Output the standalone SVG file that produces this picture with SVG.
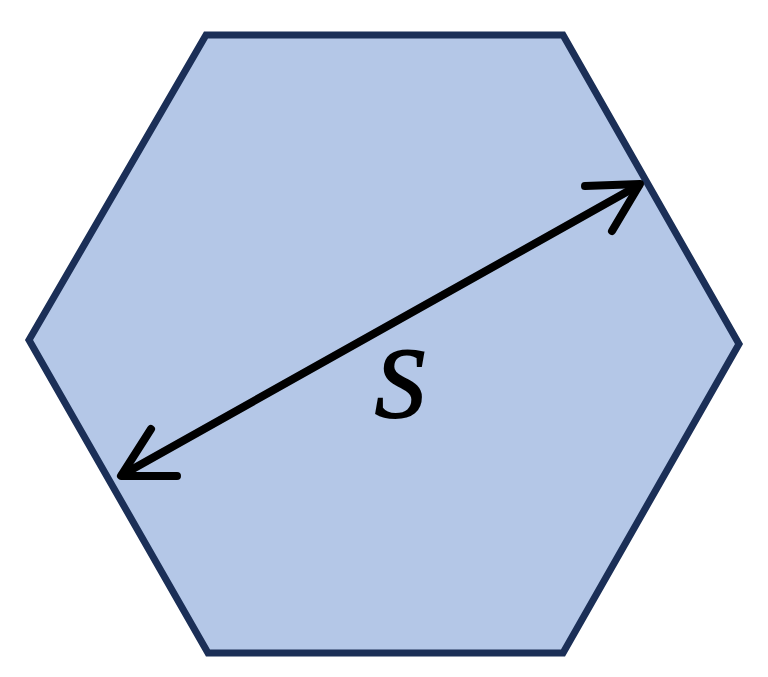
<svg xmlns="http://www.w3.org/2000/svg" width="768" height="677" viewBox="0 0 768 677">
<style>
.hex{fill:#b4c7e7;stroke:#1b2f57;stroke-width:7;stroke-linejoin:miter}
.arr{fill:none;stroke:#000;stroke-width:8;stroke-linecap:round;stroke-linejoin:round}
.lbl{font-family:"Liberation Serif",serif;font-style:italic;font-size:100px;fill:#000;stroke:#000;stroke-width:2}
</style>
<rect width="768" height="677" fill="#fff"/>
<g id="hexagon">
<polygon class="hex" points="206,35 563,35 739,344 563,653 208,653 29,340"/>
</g>
<g id="connectors">
<line class="arr" x1="122" y1="475" x2="639" y2="185"/>
<polyline class="arr" points="585,186 640,184 612,231"/>
<polyline class="arr" points="151,429 121,476 177,476"/>
</g>
<g id="label">
<text class="lbl" x="400" y="416" text-anchor="middle">S</text>
</g>
</svg>
